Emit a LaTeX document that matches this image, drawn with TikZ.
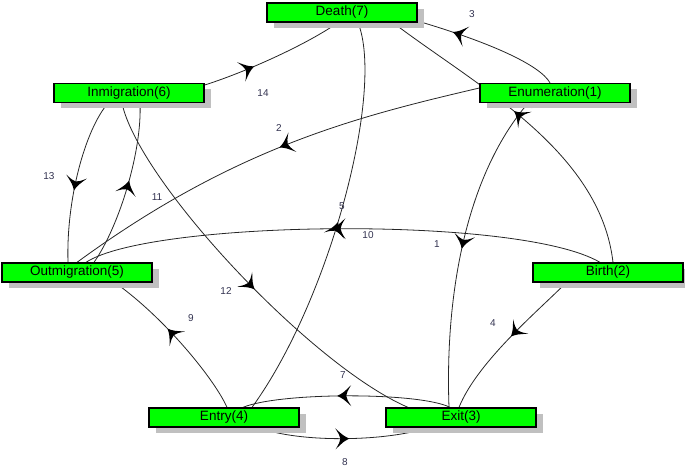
\documentclass[tikz,border=0pt]{standalone}
\usepackage{fontspec}
\setmainfont{Liberation Sans}
\usetikzlibrary{decorations.markings,shadows,calc}
\pgfdeclarelayer{bg}
\pgfsetlayers{bg,main}
\definecolor{boxgreen}{RGB}{0,255,0}
\definecolor{shadowgray}{RGB}{192,192,192}
\definecolor{lblcol}{RGB}{50,50,80}
\tikzset{
  box/.style={draw=black, line width=1.3pt, fill=boxgreen, minimum width=150pt, minimum height=19pt, inner sep=0pt,
    font=\fontsize{13.5}{14}\selectfont,
    drop shadow={shadow xshift=7pt, shadow yshift=-6pt, fill=shadowgray, opacity=1}},
  edge/.style={draw=black!85, line width=0.8pt},
  midarrow/.style={postaction={decorate}, decoration={markings, mark=at position #1 with {
    \fill[black] (1,0) .. controls (-5,3) .. (-13,10.5) .. controls (-9,4) .. (-8,0)
      .. controls (-9,-4) .. (-13,-10.5) .. controls (-5,-3) .. (1,0) -- cycle;}}},
  lbl/.style={text=lblcol, font=\fontsize{10}{11}\selectfont, inner sep=0pt},
}
\begin{document}
\begin{tikzpicture}[x=1pt,y=-1pt]
\useasboundingbox (0,0) rectangle (685,468);
% nodes
\node[box] (death) at (342,12.5) {Death(7)};
\node[box] (enum)  at (555,93) {Enumeration(1)};
\node[box] (inm)   at (129,93) {Inmigration(6)};
\node[box] (outm)  at (77,272.5) {Outmigration(5)};
\node[box] (birth) at (608,272.5) {Birth(2)};
\node[box] (entry) at (224,417.5) {Entry(4)};
\node[box] (exit)  at (461,417.5) {Exit(3)};
% labels
\node[lbl] (l1) at (437,244) {1};
\node[lbl] (l2) at (279,128) {2};
\node[lbl] (l3) at (472,14) {3};
\node[lbl] (l4) at (493,323) {4};
\node[lbl] (l5) at (342,206) {5};
\node[lbl] (l7) at (343,375) {7};
\node[lbl] (l8) at (345,462) {8};
\node[lbl] (l9) at (191,318) {9};
\node[lbl] (l10) at (368,235) {10};
\node[lbl] (l11) at (157,197) {11};
\node[lbl] (l12) at (226,291) {12};
\node[lbl] (l13) at (49,176) {13};
\node[lbl] (l14) at (263,93) {14};
\begin{pgfonlayer}{bg}
\node[lbl] (l6) at (532,105) {6};
% 1 Enumeration -> Exit
\draw[edge, midarrow=0.5] ($(enum.south)+(-27,0)$) .. controls (464,178) and (445,300) .. ($(exit.north)+(-12,0)$);
% 2 Enumeration -> Outmigration
\draw[edge, midarrow=0.47] ($(enum.west)+(0,-5)$) .. controls (360,116) and (236,146) .. (outm.north);
% 3 Enumeration -> Death
\draw[edge, midarrow=0.71] ($(enum.north)+(-5,0)$) .. controls (540,65) and (490,42) .. ($(death.east)+(-7,6.5)$);
% 14 Inmigration -> Death
\draw[edge, midarrow=0.36] ($(inm.east)+(0,-8)$) .. controls (240,74) and (300,48) .. ($(death.south)+(-7,2)$);
% 4 Birth -> Exit
\draw[edge, midarrow=0.46] ($(birth.south)+(-42,0)$) .. controls (545,305) and (478,360) .. ($(exit.north)+(-2,0)$);
% 5 Entry -> Death
\draw[edge, midarrow=0.5] ($(entry.north)+(28,0)$) .. controls (330,300) and (385,90) .. ($(death.south)+(16,0)$);
% 6 Birth -> Death
\draw[edge, midarrow=0.55] ($(birth.north)+(5,0)$) .. controls (600,150) and (475,85) .. ($(death.south)+(51,0)$);
% 7 Exit -> Entry
\draw[edge, midarrow=0.54] ($(exit.north)+(-11,0)$) .. controls (420,392) and (280,392) .. ($(entry.north)+(19,0)$);
% 8 Entry -> Exit
\draw[edge, midarrow=0.53] ($(entry.south)+(38,1)$) .. controls (300,442) and (380,442) .. ($(exit.south)+(-36,1)$);
% 9 Entry -> Outmigration
\draw[edge, midarrow=0.58] ($(entry.north)+(3,0)$) .. controls (215,380) and (165,318) .. ($(outm.south)+(38,0)$);
% 10 Birth -> Outmigration
\draw[edge, midarrow=0.52] ($(birth.north)+(-8,0)$) .. controls (520,215) and (150,220) .. ($(outm.north)+(9,0)$);
% 11 Outmigration -> Inmigration
\draw[edge, midarrow=0.53] ($(outm.north)+(17,0)$) .. controls (120,225) and (142,150) .. ($(inm.south)+(11,1)$);
% 12 Inmigration -> Exit
\draw[edge, midarrow=0.54] ($(inm.south)+(-7,0)$) .. controls (138,180) and (310,365) .. ($(exit.north)+(-53,0)$);
% 13 Inmigration -> Outmigration
\draw[edge, midarrow=0.56] ($(inm.south)+(-21,0)$) .. controls (85,130) and (66,200) .. ($(outm.north)+(-9,0)$);
\end{pgfonlayer}
\end{tikzpicture}
\end{document}
